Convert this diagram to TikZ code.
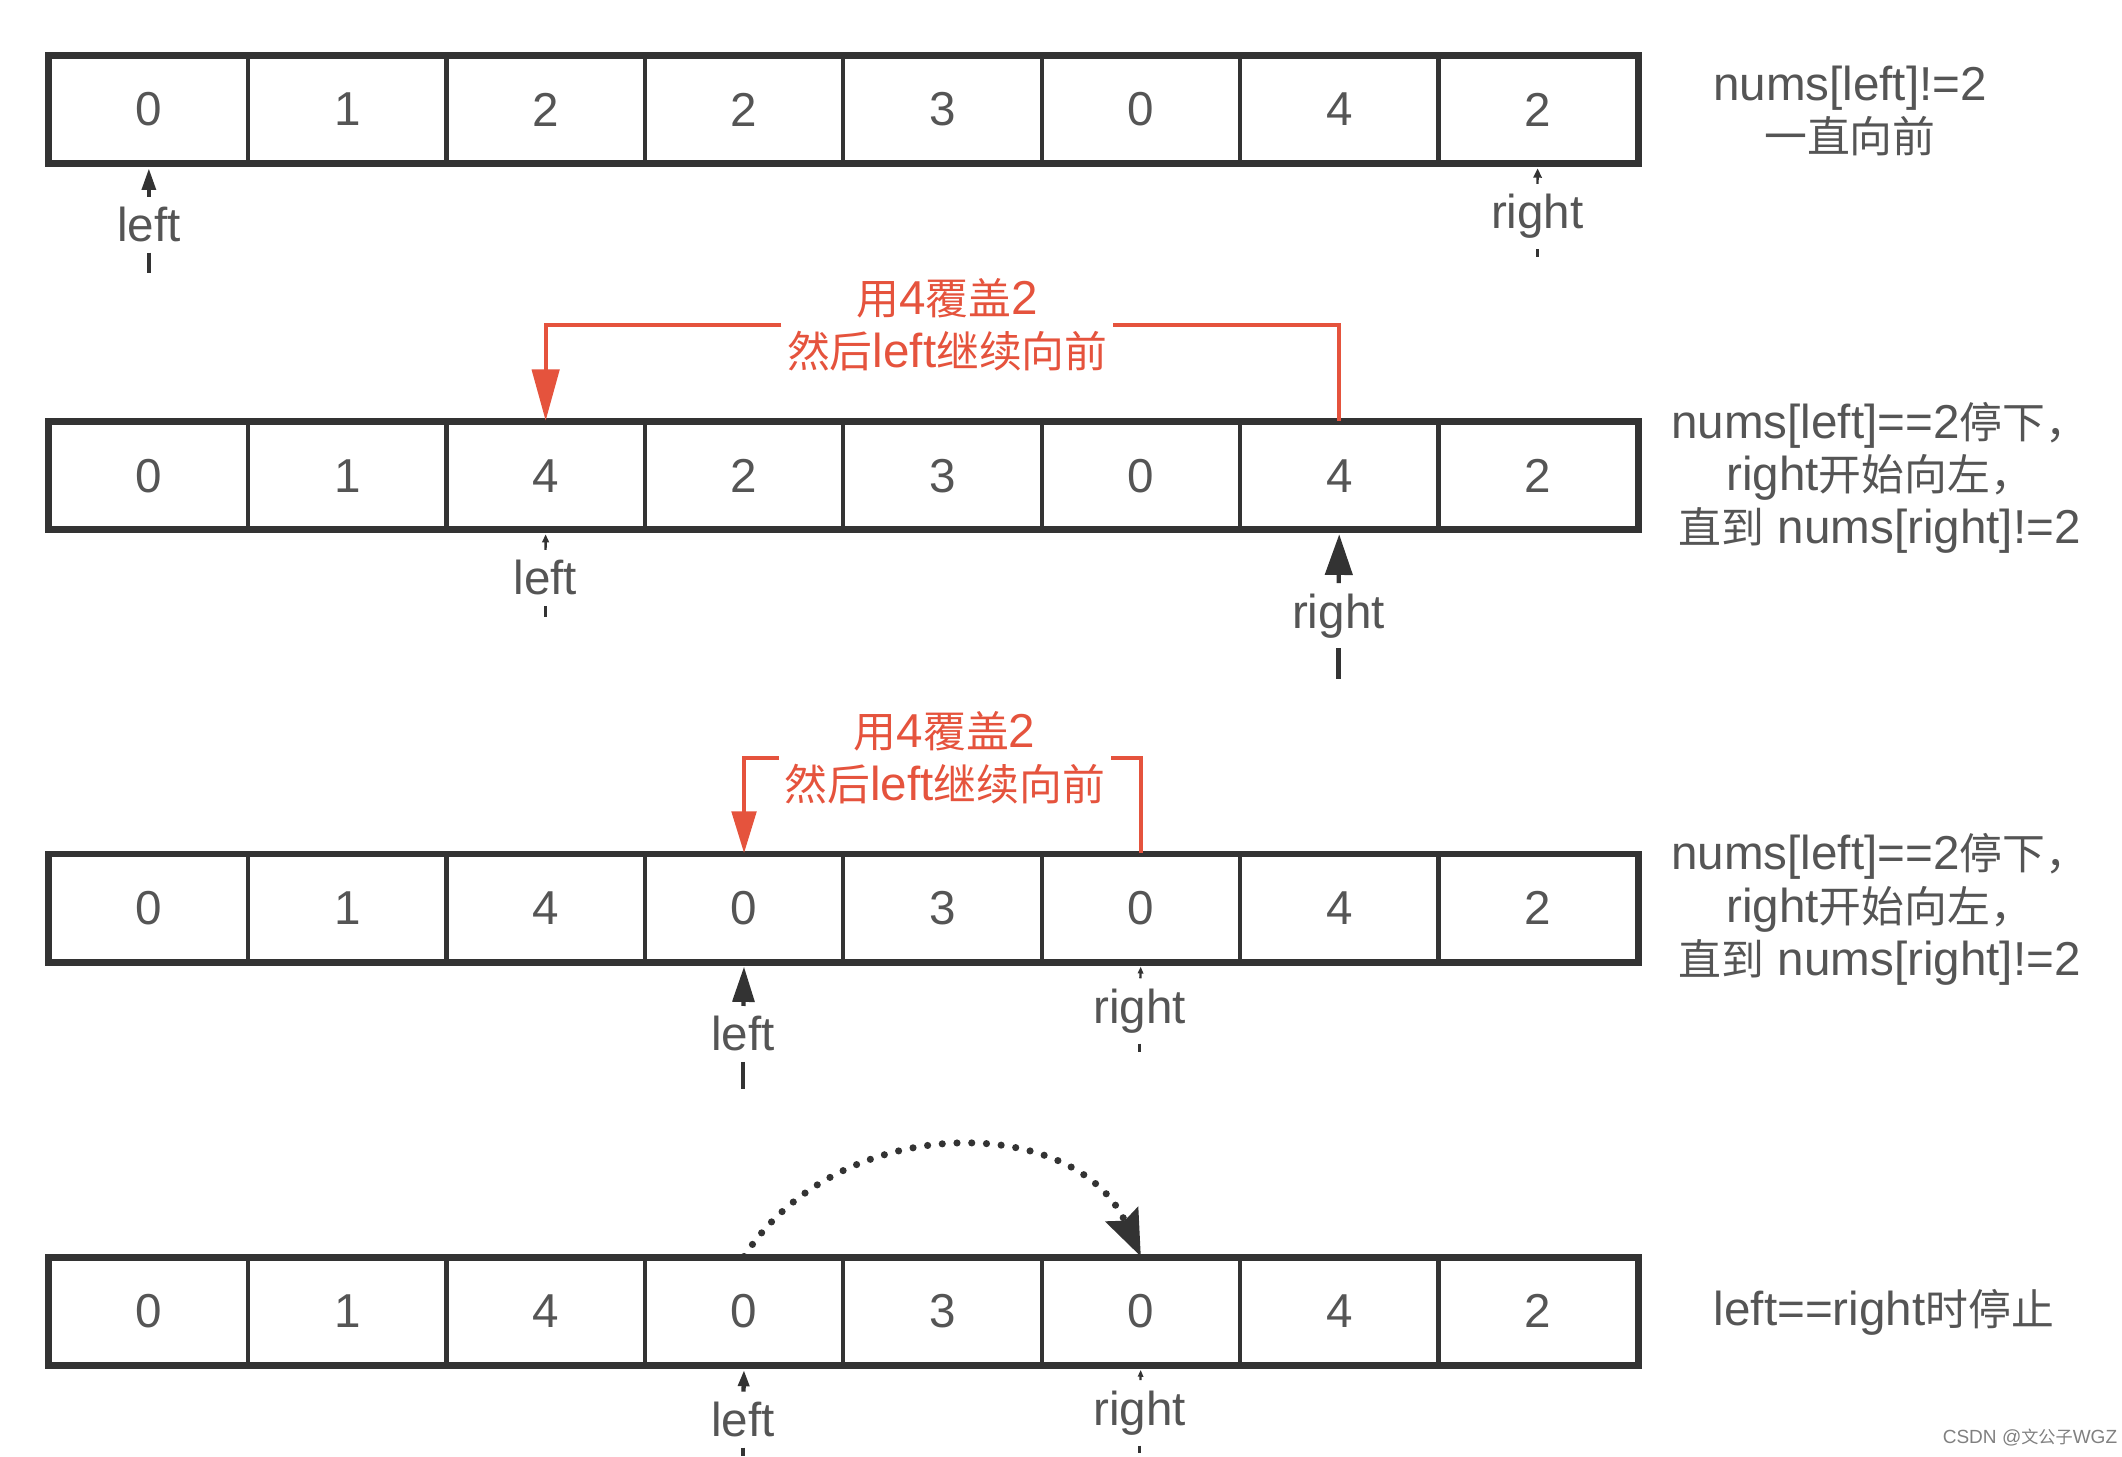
\documentclass[tikz,border=0pt]{standalone}
\usepackage{fontspec}
\setmainfont{Liberation Sans}
\newfontfamily\zhfont[Scale=0.9]{Noto Sans CJK SC}
\newcommand{\zh}[1]{{\zhfont #1}}
\usetikzlibrary{arrows.meta}
\definecolor{linegray}{HTML}{333333}
\definecolor{txtgray}{HTML}{555555}
\definecolor{redc}{HTML}{E5533D}
\tikzset{
  cell/.style={draw=linegray, line width=0.85pt, minimum width=1.466cm,
    minimum height=0.78cm, inner sep=0pt, text=txtgray},
  border/.style={draw=linegray, line width=1.15pt},
  ptrlabel/.style={inner sep=2pt, text=txtgray},
  ptr/.style={draw=linegray, line width=0.9pt},
  ptr thin/.style={draw=linegray, line width=0.5pt},
  ptrtip/.style 2 args={-{Triangle[length=#1,width=#2]}, shorten >=0.8pt},
  redline/.style={draw=redc, line width=0.9pt},
  redtext/.style={text=redc, align=center, inner sep=1pt},
  redtip/.style 2 args={-{Triangle[length=#1,width=#2]}},
  jump/.style={draw=linegray, line width=1.5pt, line cap=round,
    dash pattern=on 0pt off 3.1pt, -{Stealth[length=0.34cm,width=0.26cm,inset=0.05cm]}},
  note/.style={align=center, text=txtgray, inner sep=0pt}
}
\begin{document}
\begin{tikzpicture}[x=0.01cm,y=-0.01cm,font=\fontsize{10}{11.1}\selectfont]
  \useasboundingbox (0,0) rectangle (1568,1076);

  % the four states of the array
  \foreach \v [count=\i from 0] in {0,1,2,2,3,0,4,2}
    \node[cell] (r1c\i) at ({110+146.6*\i},81) {\v};
  \foreach \v [count=\i from 0] in {0,1,4,2,3,0,4,2}
    \node[cell] (r2c\i) at ({110+146.6*\i},351.5) {\v};
  \foreach \v [count=\i from 0] in {0,1,4,0,3,0,4,2}
    \node[cell] (r3c\i) at ({110+146.6*\i},671) {\v};
  \foreach \v [count=\i from 0] in {0,1,4,0,3,0,4,2}
    \node[cell] (r4c\i) at ({110+146.6*\i},969) {\v};
  \foreach \r in {1,...,4}
    \draw[border] (r\r c0.north west) rectangle (r\r c7.south east);

  % pointers, row 1
  \node[ptrlabel] (l1) at (110,166) {left};
  \coordinate (l1e) at (110,202);
  \draw[ptr] (l1) -- (l1e);
  \draw[ptr, ptrtip={0.16cm}{0.1cm}] (l1) -- (r1c0.south);
  \node[ptrlabel] (g1) at (1136,160) {right};
  \coordinate (g1e) at (1136,190);
  \draw[ptr thin] (g1) -- (g1e);
  \draw[ptr thin, ptrtip={0.07cm}{0.06cm}] (g1) -- (r1c7.south);

  % pointers, row 2
  \node[ptrlabel] (l2) at (403,427) {left};
  \coordinate (l2e) at (403,456);
  \draw[ptr thin] (l2) -- (l2e);
  \draw[ptr thin, ptrtip={0.06cm}{0.05cm}] (l2) -- (r2c2.south);
  \node[ptrlabel] (g2) at (989,455) {right};
  \coordinate (g2e) at (989,502);
  \draw[ptr] (g2) -- (g2e);
  \draw[ptr, ptrtip={0.3cm}{0.2cm}] (g2) -- (r2c6.south);

  % pointers, row 3
  \node[ptrlabel] (l3) at (549,764) {left};
  \coordinate (l3e) at (549,805);
  \draw[ptr] (l3) -- (l3e);
  \draw[ptr, ptrtip={0.26cm}{0.16cm}] (l3) -- (r3c3.south);
  \node[ptrlabel] (g3) at (842,747) {right};
  \coordinate (g3e) at (842,777);
  \draw[ptr thin] (g3) -- (g3e);
  \draw[ptr thin, ptrtip={0.05cm}{0.04cm}] (g3) -- (r3c5.south);

  % pointers, row 4
  \node[ptrlabel] (l4) at (549,1049) {left};
  \coordinate (l4e) at (549,1076);
  \draw[ptr] (l4) -- (l4e);
  \draw[ptr, ptrtip={0.12cm}{0.08cm}] (l4) -- (r4c3.south);
  \node[ptrlabel] (g4) at (842,1044) {right};
  \coordinate (g4e) at (842,1074);
  \draw[ptr thin] (g4) -- (g4e);
  \draw[ptr thin, ptrtip={0.05cm}{0.04cm}] (g4) -- (r4c5.south);

  % copy 4 over 2
  \node[redtext] (c2) at (700,240) {\zh{用}4\zh{覆盖}2\\\zh{然后}left\zh{继续向前}};
  \draw[redline] (r2c6.north) |- (c2.east);
  \draw[redline, redtip={0.38cm}{0.2cm}] (c2.west) -| (r2c2.north);
  \node[redtext] (c3) at (698,560) {\zh{用}4\zh{覆盖}2\\\zh{然后}left\zh{继续向前}};
  \draw[redline] (r3c5.north) |- (c3.east);
  \draw[redline, redtip={0.31cm}{0.18cm}] (c3.west) -| (r3c3.north);

  % left meets right
  \draw[jump] (r4c3.north) .. controls (620,820) and (795,822) .. (r4c5.north);

  % notes
  \node[note] (t1) at (1367,82) {nums[left]!=2\\\zh{一直向前}};
  \node[note] (t2) at (1389,353) {nums[left]==2\zh{停下，}\\right\zh{开始向左，}\\\zh{直到} nums[right]!=2};
  \node[note] (t3) at (1389,672) {nums[left]==2\zh{停下，}\\right\zh{开始向左，}\\\zh{直到} nums[right]!=2};
  \node[note] (t4) at (1392,970) {left==right\zh{时停止}};
  \node[note, text=gray, font=\fontsize{4}{5}\selectfont] (wm) at (1500,1062) {CSDN @\zh{文公子}WGZ};
\end{tikzpicture}
\end{document}
